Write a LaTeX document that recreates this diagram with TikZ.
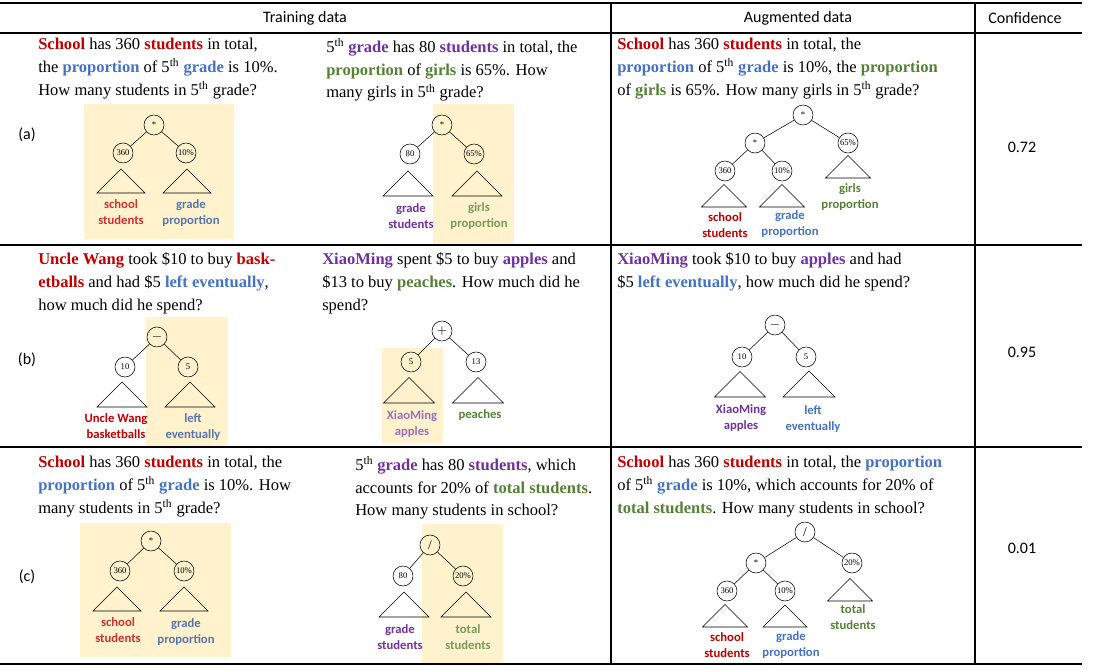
\documentclass[tikz,border=0pt]{standalone}
\usepackage{fontspec}
\setmainfont{Liberation Serif}
\newfontfamily\calfnt{Carlito}
\definecolor{cr}{HTML}{C00000}
\definecolor{cb}{HTML}{4472C4}
\definecolor{cp}{HTML}{7030A0}
\definecolor{cg}{HTML}{548235}
\definecolor{hl}{HTML}{FFF2CC}
\newcommand\Rd[1]{\textcolor{cr}{\textbf{#1}}}
\newcommand\Bl[1]{\textcolor{cb}{\textbf{#1}}}
\newcommand\Pu[1]{\textcolor{cp}{\textbf{#1}}}
\newcommand\Gr[1]{\textcolor{cg}{\textbf{#1}}}
\newcommand\thx{\textsuperscript{th}}
\newcommand\tri[3]{\draw (#1-#3*0.5,#2) -- (#1,#2-#3*0.5) -- (#1+#3*0.5,#2) -- cycle;}
\begin{document}
\begin{tikzpicture}[x=0.75pt,y=-0.75pt,
  q/.style={anchor=north west,align=left,inner sep=0pt,font=\fontsize{12.4}{17.2}\selectfont},
  hd/.style={font=\calfnt\fontsize{12}{14}\selectfont},
  c/.style={circle,draw,inner sep=0pt,minimum size=15pt,font=\fontsize{6.5}{7}\selectfont},
  lb/.style={align=center,font=\calfnt\bfseries\fontsize{9.5}{12.5}\selectfont,inner sep=0pt}]
\useasboundingbox (0,0) rectangle (1107,669);
% highlights
\fill[hl] (84,104) rectangle (234,239);
\fill[hl] (433,104) rectangle (514,245);
\fill[hl] (146,317) rectangle (228,446);
\fill[hl] (382,348) rectangle (443,444);
\fill[hl] (80,523) rectangle (231,657);
\fill[hl] (422,524) rectangle (503,663);
% table lines
\draw[line width=0.8pt] (0,3) -- (1082,3);
\draw[line width=0.8pt] (0,33) -- (1082,33);
\draw[line width=0.8pt] (0,245) -- (1082,245);
\draw[line width=0.8pt] (0,447) -- (1082,447);
\draw[line width=1.2pt] (0,664) -- (1082,664);
\draw[line width=0.8pt] (611,3) -- (611,664);
\draw[line width=0.8pt] (975,3) -- (975,664);
\node[hd] (h1) at (305,18) {Training data};
\node[hd] (h2) at (798,18) {Augmented data};
\node[hd] (h3) at (1025,18) {Confidence};
\node[hd] (ra) at (27,135) {(a)};
\node[hd] (rb) at (27,360) {(b)};
\node[hd] (rc) at (27,577) {(c)};
\node[hd] (ka) at (1022,147) {0.72};
\node[hd] (kb) at (1022,352) {0.95};
\node[hd] (kc) at (1022,548) {0.01};
% texts row a
\node[q] (ta1) at (38,38) {\Rd{School} has 360 \Rd{students} in total,\\the \Bl{proportion} of 5\thx{} \Bl{grade} is 10\%.\\How many students in 5\thx{} grade?};
\node[q] (ta2) at (326,38) {5\thx{} \Pu{grade} has 80 \Pu{students} in total, the\\\Gr{proportion} of \Gr{girls} is 65\%. How\\many girls in 5\thx{} grade?};
\node[q] (ta3) at (617,38) {\Rd{School} has 360 \Rd{students} in total, the\\\Bl{proportion} of 5\thx{} \Bl{grade} is 10\%, the \Gr{proportion}\\of \Gr{girls} is 65\%. How many girls in 5\thx{} grade?};
% texts row b
\node[q] (tb1) at (38,252) {\Rd{Uncle Wang} took \$10 to buy \Rd{bask-}\\\Rd{etballs} and had \$5 \Bl{left eventually},\\how much did he spend?};
\node[q] (tb2) at (322,252) {\Pu{XiaoMing} spent \$5 to buy \Pu{apples} and\\\$13 to buy \Gr{peaches}. How much did he\\spend?};
\node[q] (tb3) at (617,252) {\Pu{XiaoMing} took \$10 to buy \Pu{apples} and had\\\$5 \Bl{left eventually}, how much did he spend?};
% texts row c
\node[q] (tc1) at (38,456) {\Rd{School} has 360 \Rd{students} in total, the\\\Bl{proportion} of 5\thx{} \Bl{grade} is 10\%. How\\many students in 5\thx{} grade?};
\node[q] (tc2) at (355,456) {5\thx{} \Pu{grade} has 80 \Pu{students}, which\\accounts for 20\% of \Gr{total students}.\\How many students in school?};
\node[q] (tc3) at (617,456) {\Rd{School} has 360 \Rd{students} in total, the \Bl{proportion}\\of 5\thx{} \Bl{grade} is 10\%, which accounts for 20\% of\\\Gr{total students}. How many students in school?};
% ---- tree a1
\node[c] (a1r) at (154,125) {*};
\node[c] (a1l) at (123,153) {360};
\node[c] (a1k) at (186,153) {10\%};
\draw (a1r) -- (a1l); \draw (a1r) -- (a1k);
\tri{121}{193}{48} \tri{187}{193}{48}
\node[lb,text=cr!80] (a1a) at (121,212) {school\\students};
\node[lb,text=cb!70!gray] (a1b) at (191,213) {grade\\proportion};
% ---- tree a2
\node[c] (a2r) at (442,125) {*};
\node[c] (a2l) at (410,154) {80};
\node[c] (a2k) at (474,154) {65\%};
\draw (a2r) -- (a2l); \draw (a2r) -- (a2k);
\tri{408}{196}{50} \tri{477}{196}{50}
\node[lb,text=cp] (a2a) at (411,216) {grade\\students};
\node[lb,text=cg!80] (a2b) at (479,216) {girls\\proportion};
% ---- tree a3
\node[c] (a3r) at (803,115) {*};
\node[c] (a3l) at (755,143) {*};
\node[c] (a3k) at (848,143) {65\%};
\node[c] (a3m) at (725,171) {360};
\node[c] (a3n) at (782,171) {10\%};
\draw (a3r) -- (a3l); \draw (a3r) -- (a3k); \draw (a3l) -- (a3m); \draw (a3l) -- (a3n);
\tri{724}{207}{45} \tri{782}{207}{45} \tri{848}{178}{45}
\node[lb,text=cg] (a3c) at (850,197) {girls\\proportion};
\node[lb,text=cr] (a3a) at (725,225) {school\\students};
\node[lb,text=cb] (a3b) at (790,224) {grade\\proportion};
% ---- tree b1
\node[c,font=\fontsize{10}{10}\selectfont] (b1r) at (157,337) {$-$};
\node[c] (b1l) at (125,367) {10};
\node[c] (b1k) at (188,367) {5};
\draw (b1r) -- (b1l); \draw (b1r) -- (b1k);
\tri{122}{407}{50} \tri{190}{407}{50}
\node[lb,text=cr] (b1a) at (116,426) {Uncle Wang\\basketballs};
\node[lb,text=cb!70!gray] (b1b) at (193,427) {left\\eventually};
% ---- tree b2
\node[c,font=\fontsize{10}{10}\selectfont] (b2r) at (442,331) {$+$};
\node[c] (b2l) at (411,362) {5};
\node[c] (b2k) at (476,362) {13};
\draw (b2r) -- (b2l); \draw (b2r) -- (b2k);
\tri{409}{403}{51} \tri{478}{403}{51}
\node[lb,text=cp!70] (b2a) at (412,424) {XiaoMing\\apples};
\node[lb,text=cg] (b2b) at (480,415) {peaches};
% ---- tree b3
\node[c,font=\fontsize{10}{10}\selectfont] (b3r) at (775,325) {$-$};
\node[c] (b3l) at (742,357) {10};
\node[c] (b3k) at (806,357) {5};
\draw (b3r) -- (b3l); \draw (b3r) -- (b3k);
\tri{740}{397}{51} \tri{809}{397}{52}
\node[lb,text=cp] (b3a) at (741,418) {XiaoMing\\apples};
\node[lb,text=cb] (b3b) at (813,419) {left\\eventually};
% ---- tree c1
\node[c] (c1r) at (151,541) {*};
\node[c] (c1l) at (120,571) {360};
\node[c] (c1k) at (184,571) {10\%};
\draw (c1r) -- (c1l); \draw (c1r) -- (c1k);
\tri{117}{611}{48} \tri{184}{611}{48}
\node[lb,text=cr!80] (c1a) at (118,630) {school\\students};
\node[lb,text=cb!70!gray] (c1b) at (186,632) {grade\\proportion};
% ---- tree c2
\node[c,font=\fontsize{10}{10}\selectfont] (c2r) at (430,545) {/};
\node[c] (c2l) at (403,576) {80};
\node[c] (c2k) at (463,576) {20\%};
\draw (c2r) -- (c2l); \draw (c2r) -- (c2k);
\tri{404}{617}{50} \tri{466}{617}{50}
\node[lb,text=cp] (c2a) at (400,637) {grade\\students};
\node[lb,text=cg!80] (c2b) at (468,637) {total\\students};
% ---- tree c3
\node[c,font=\fontsize{10}{10}\selectfont] (c3r) at (805,532) {/};
\node[c] (c3l) at (756,563) {*};
\node[c] (c3k) at (852,563) {20\%};
\node[c] (c3m) at (727,591) {360};
\node[c] (c3n) at (785,591) {10\%};
\draw (c3r) -- (c3l); \draw (c3r) -- (c3k); \draw (c3l) -- (c3m); \draw (c3l) -- (c3n);
\tri{725}{627}{45} \tri{785}{627}{44} \tri{850}{601}{45}
\node[lb,text=cg] (c3c) at (853,617) {total\\students};
\node[lb,text=cr] (c3a) at (727,645) {school\\students};
\node[lb,text=cb] (c3b) at (791,645) {grade\\proportion};
\end{tikzpicture}
\end{document}
